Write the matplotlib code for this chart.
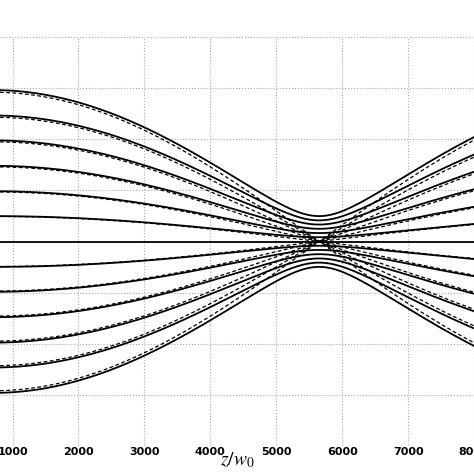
import numpy as np
import matplotlib
matplotlib.use("Agg")
import matplotlib.pyplot as plt

plt.rcParams["mathtext.fontset"] = "stix"

amplitudes = [0.49, 0.97, 1.46, 1.95, 2.43, 2.92]
waist_frac = 0.17
z_start = 700.0
z_focus = 5650.0
xticks = [1000, 2000, 3000, 4000, 5000, 6000, 7000, 8000]

z = np.linspace(810, 8000, 600)
u = np.cos(np.pi / 2 * (z - z_start) / (z_focus - z_start))

fig = plt.figure(figsize=(4.74, 4.74), dpi=100)
ax = fig.add_axes([0, 28 / 474, 1, 409 / 474])
ax.plot(z, np.zeros_like(z), color="black", lw=1.3)
for a in amplitudes:
    solid = a * np.sqrt(u**2 + waist_frac**2)
    dashed = a * np.abs(u)
    for s in (1, -1):
        ax.plot(z, s * solid, color="black", lw=1.3)
        ax.plot(z, s * dashed, color="black", lw=0.9, ls=(0, (3, 2)))

ax.set_xlim(810, 8000)
ax.set_ylim(-4, 4)
ax.set_xticks(xticks)
ax.set_xticklabels([str(t) for t in xticks], fontsize=8, fontweight="bold")
ax.set_yticks(np.arange(-4, 5, 1))
ax.tick_params(axis="y", labelleft=False, length=0)
ax.tick_params(axis="x", length=0, pad=1)
ax.grid(True, color="#aaaaaa", ls=":", lw=0.8)
for sp in ax.spines.values():
    sp.set_visible(False)
ax.set_xlabel(r"$z/w_0$", fontsize=14, labelpad=-5)
fig.savefig("out.png", dpi=100)
